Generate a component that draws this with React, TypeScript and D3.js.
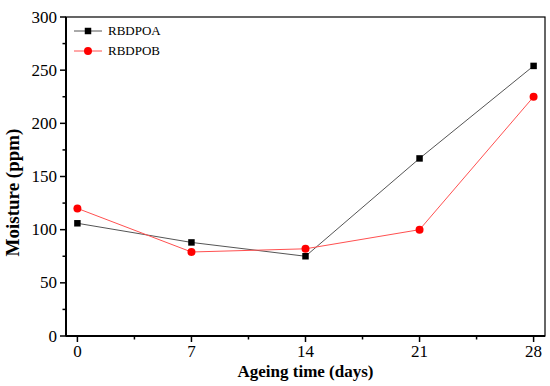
import { useEffect, useRef } from "react";
import * as d3 from "d3";

const days = [0, 7, 14, 21, 28];
const rbdpoa = [106, 88, 75, 167, 254];
const rbdpob = [120, 79, 82, 100, 225];
const xTicks = [0, 7, 14, 21, 28];
const yTicks = [0, 50, 100, 150, 200, 250, 300];

export default function App() {
  const svgRef = useRef<SVGSVGElement>(null);

  useEffect(() => {
    const width = 550;
    const height = 386;
    const margin = { top: 17, right: 5, bottom: 50, left: 66 };
    const w = width - margin.left - margin.right;
    const h = height - margin.top - margin.bottom;
    const font = "'Liberation Serif', 'Times New Roman', serif";

    const root = d3.select(svgRef.current);
    root.selectAll("*").remove();
    root.attr("width", width).attr("height", height);

    const svg = root
      .append("g")
      .attr("transform", `translate(${margin.left},${margin.top})`);

    const x = d3.scaleLinear().domain([-0.7, 28.7]).range([0, w]);
    const y = d3.scaleLinear().domain([0, 300]).range([h, 0]);

    // frame
    svg
      .append("rect")
      .attr("width", w)
      .attr("height", h)
      .attr("fill", "none")
      .attr("stroke", "#000")
      .attr("stroke-width", 1.2);

    // x axis
    const xa = svg.append("g").attr("transform", `translate(0,${h})`);
    xa.append("line").attr("x1", 0).attr("x2", w).attr("stroke", "#000").attr("stroke-width", 2);
    const xMinor = d3.range(3.5, 28, 7);
    xa.selectAll(".xt")
      .data(xTicks)
      .join("line")
      .attr("x1", (d) => x(d))
      .attr("x2", (d) => x(d))
      .attr("y1", 0)
      .attr("y2", 6)
      .attr("stroke", "#000")
      .attr("stroke-width", 1.5);
    xa.selectAll(".xm")
      .data(xMinor)
      .join("line")
      .attr("x1", (d) => x(d))
      .attr("x2", (d) => x(d))
      .attr("y1", 0)
      .attr("y2", 3.5)
      .attr("stroke", "#000")
      .attr("stroke-width", 1.5);
    xa.selectAll(".xl")
      .data(xTicks)
      .join("text")
      .attr("x", (d) => x(d))
      .attr("y", 21)
      .attr("text-anchor", "middle")
      .attr("font-family", font)
      .attr("font-size", 17)
      .text((d) => d);

    // y axis
    const ya = svg.append("g");
    ya.append("line").attr("y1", 0).attr("y2", h).attr("stroke", "#000").attr("stroke-width", 2);
    const yMinor = d3.range(25, 300, 50);
    ya.selectAll(".yt")
      .data(yTicks)
      .join("line")
      .attr("y1", (d) => y(d))
      .attr("y2", (d) => y(d))
      .attr("x1", 0)
      .attr("x2", -6)
      .attr("stroke", "#000")
      .attr("stroke-width", 1.5);
    ya.selectAll(".ym")
      .data(yMinor)
      .join("line")
      .attr("y1", (d) => y(d))
      .attr("y2", (d) => y(d))
      .attr("x1", 0)
      .attr("x2", -3.5)
      .attr("stroke", "#000")
      .attr("stroke-width", 1.5);
    ya.selectAll(".yl")
      .data(yTicks)
      .join("text")
      .attr("x", -9)
      .attr("y", (d) => y(d))
      .attr("dy", "0.33em")
      .attr("text-anchor", "end")
      .attr("font-family", font)
      .attr("font-size", 17)
      .text((d) => d);

    // titles
    svg
      .append("text")
      .attr("x", w / 2)
      .attr("y", h + 41)
      .attr("text-anchor", "middle")
      .attr("font-family", font)
      .attr("font-weight", "bold")
      .attr("font-size", 17)
      .text("Ageing time (days)");
    svg
      .append("text")
      .attr("transform", `translate(-47,${h / 2 + 16}) rotate(-90)`)
      .attr("text-anchor", "middle")
      .attr("font-family", font)
      .attr("font-weight", "bold")
      .attr("font-size", 19)
      .text("Moisture (ppm)");

    const series = [
      { name: "RBDPOA", values: rbdpoa, line: "#555", color: "#000", shape: "square" },
      { name: "RBDPOB", values: rbdpob, line: "#ff5050", color: "#ff0000", shape: "circle" },
    ];

    const line = d3
      .line<number>()
      .x((_, i) => x(days[i]))
      .y((d) => y(d));

    series.forEach((s) => {
      svg
        .append("path")
        .attr("d", line(s.values))
        .attr("fill", "none")
        .attr("stroke", s.line)
        .attr("stroke-width", 1);
      const sym = d3
        .symbol()
        .type(s.shape === "square" ? d3.symbolSquare : d3.symbolCircle)
        .size(s.shape === "square" ? 42 : 50);
      svg
        .selectAll(`.pt-${s.name}`)
        .data(s.values)
        .join("path")
        .attr("transform", (d, i) => `translate(${x(days[i])},${y(d)})`)
        .attr("d", sym)
        .attr("fill", s.color);
    });

    // legend
    const lg = svg.append("g").attr("transform", "translate(8,14)");
    series.forEach((s, i) => {
      const g = lg.append("g").attr("transform", `translate(0,${i * 20})`);
      g.append("line").attr("x1", 0).attr("x2", 28).attr("stroke", s.line).attr("stroke-width", 1);
      g.append("path")
        .attr("transform", "translate(14,0)")
        .attr(
          "d",
          d3
            .symbol()
            .type(s.shape === "square" ? d3.symbolSquare : d3.symbolCircle)
            .size(s.shape === "square" ? 42 : 50)()
        )
        .attr("fill", s.color);
      g.append("text")
        .attr("x", 34)
        .attr("dy", "0.33em")
        .attr("font-family", font)
        .attr("font-size", 13)
        .text(s.name);
    });
  }, []);

  return (
    <svg
      ref={svgRef}
      style={{ position: "absolute", left: 0, top: 0, background: "#fff" }}
    ></svg>
  );
}
